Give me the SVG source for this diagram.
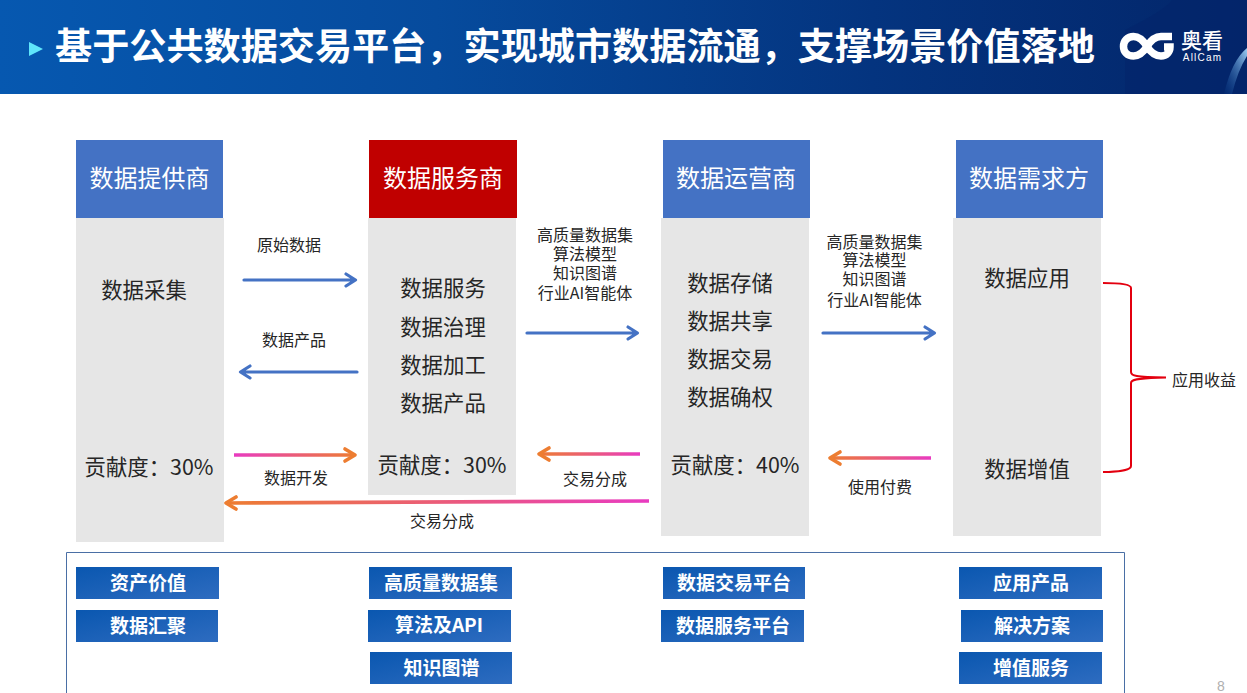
<svg xmlns="http://www.w3.org/2000/svg" width="1247" height="693" viewBox="0 0 1247 693">
<style>
text{font-family:"Noto Sans CJK SC","Liberation Sans",sans-serif;fill:#262626;text-anchor:middle}
.h{font-size:24px;fill:#fff}
.b{font-size:21.4px}
.s{font-size:16px}
.g{font-size:16px}
.t{font-size:19px;font-weight:700;fill:#fff}
.col{fill:#e6e6e6}
.blue{fill:none;stroke:#4472c4;stroke-width:3.2;stroke-linejoin:round;stroke-linecap:round}
.tag{fill:url(#tagG)}
.ar{fill:none;stroke-width:3.6;stroke-linejoin:round;stroke-linecap:round}
.arb{fill:none;stroke-width:3.6}
</style>
<defs>
<linearGradient id="hd" x1="0" y1="0" x2="1" y2="0"><stop offset="0" stop-color="#0658b0"/><stop offset=".35" stop-color="#064b9d"/><stop offset=".7" stop-color="#04347f"/><stop offset="1" stop-color="#03266a"/></linearGradient>
<linearGradient id="tagG" x1="0" y1="0" x2="1" y2="1"><stop offset="0" stop-color="#0a57b0"/><stop offset="1" stop-color="#2e6cc0"/></linearGradient>
<linearGradient id="g1" gradientUnits="userSpaceOnUse" x1="234" y1="0" x2="356" y2="0"><stop offset="0" stop-color="#e83bc0"/><stop offset="1" stop-color="#ed7d31"/></linearGradient>
<linearGradient id="g2" gradientUnits="userSpaceOnUse" x1="640" y1="0" x2="538" y2="0"><stop offset="0" stop-color="#e83bc0"/><stop offset="1" stop-color="#ed7d31"/></linearGradient>
<linearGradient id="g3" gradientUnits="userSpaceOnUse" x1="649" y1="0" x2="225" y2="0"><stop offset="0" stop-color="#e83bc0"/><stop offset="1" stop-color="#ed7d31"/></linearGradient>
<linearGradient id="g4" gradientUnits="userSpaceOnUse" x1="931" y1="0" x2="829" y2="0"><stop offset="0" stop-color="#e83bc0"/><stop offset="1" stop-color="#ed7d31"/></linearGradient>
<linearGradient id="sw" x1="0" y1="1" x2="1" y2="0"><stop offset="0" stop-color="#0a4a9c" stop-opacity=".1"/><stop offset="1" stop-color="#9fd0f5"/></linearGradient>
</defs>

<g id="banner">
<rect x="0" y="0" width="1247" height="94" fill="url(#hd)"/>
<path d="M1125 30Q1165 10 1172 0H1247V94H1125Z" fill="#03246a" opacity=".6"/>
<path d="M1224 94Q1232 60 1247 48V56Q1238 70 1232 94Z" fill="url(#sw)"/>
<polygon points="29,42 43,49 29,56" fill="#5fe6fb"/>
<text x="55" y="60" style="font-size:37.15px;font-weight:700;fill:#fff;text-anchor:start">基于公共数据交易平台，实现城市数据流通，支撑场景价值落地</text>
</g>
<g id="logo">
<path d="M1147 46.500C1143 40 1139 36.500 1133.500 36.500C1127.500 36.500 1123.500 41 1123.500 46.500C1123.500 52 1127.500 56 1133.500 56C1139.500 56 1143.500 52 1147 46.500C1151 40 1155 36.500 1161 36.500H1172" fill="none" stroke="#fff" stroke-width="7.500"/>
<path d="M1147 46.500C1150.500 52 1155 56 1161 56C1166.500 56 1170 52 1170 47H1164" fill="none" stroke="#fff" stroke-width="7.500"/>
<text x="1202" y="48" style="font-size:21px;font-weight:500;fill:#fff">奥看</text>
<text x="1202.500" y="60.500" style="font-size:10px;font-weight:500;fill:#fff;font-family:'Liberation Sans',sans-serif;letter-spacing:1.2px">AllCam</text>
</g>

<g id="col-provider">
<rect class="col" x="76" y="218" width="148" height="324"/>
<rect x="76" y="140" width="147" height="78" fill="#4472c4"/>
<text class="h" x="149.500" y="187">数据提供商</text>
<text class="b" x="144" y="298">数据采集</text>
<text class="b" x="149" y="475">贡献度：30%</text>
</g>
<g id="col-service">
<rect class="col" x="368" y="218" width="148" height="277"/>
<rect x="369" y="140" width="148" height="78" fill="#c00000"/>
<text class="h" x="443" y="187">数据服务商</text>
<text class="b" x="443" y="296">数据服务</text>
<text class="b" x="443" y="335">数据治理</text>
<text class="b" x="443" y="373">数据加工</text>
<text class="b" x="443" y="411">数据产品</text>
<text class="b" x="442" y="473">贡献度：30%</text>
</g>
<g id="col-operator">
<rect class="col" x="661" y="218" width="148" height="318"/>
<rect x="663" y="140" width="147" height="78" fill="#4472c4"/>
<text class="h" x="736" y="187">数据运营商</text>
<text class="b" x="730" y="291">数据存储</text>
<text class="b" x="730" y="329">数据共享</text>
<text class="b" x="730" y="367">数据交易</text>
<text class="b" x="730" y="405">数据确权</text>
<text class="b" x="735" y="473">贡献度：40%</text>
</g>
<g id="col-demand">
<rect class="col" x="953" y="218" width="148" height="318"/>
<rect x="956" y="140" width="147" height="78" fill="#4472c4"/>
<text class="h" x="1029" y="187">数据需求方</text>
<text class="b" x="1027" y="286">数据应用</text>
<text class="b" x="1027" y="477">数据增值</text>
</g>

<g id="connectors">
<path class="blue" d="M244 280H355M346 274L355.500 280L346 286"/>
<path class="blue" d="M357 372H241M250 366L240.500 372L250 378"/>
<path class="blue" d="M527 333H637M628 327L637.500 333L628 339"/>
<path class="blue" d="M823 333H933M925 327L934.500 333L925 339"/>
<path class="arb" stroke="url(#g1)" d="M234 455H354"/>
<path class="ar" stroke="#ed7d31" d="M345 449L355 455L345 461"/>
<path class="arb" stroke="url(#g2)" d="M640 454H540"/>
<path class="ar" stroke="#ed7d31" d="M549 448L539 454L549 460"/>
<path class="arb" stroke="url(#g3)" d="M649 501L227 503"/>
<path class="ar" stroke="#ed7d31" d="M236 497L226 503L236 509"/>
<path class="arb" stroke="url(#g4)" d="M931 458H832"/>
<path class="ar" stroke="#ed7d31" d="M840 452L830 458L840 464"/>
<path d="M1103 283C1118 283 1131 284 1131 288V372C1131 376 1135 377 1166 377.500C1135 378 1131 380 1131 383V466C1131 470 1118 472 1103 472" fill="none" stroke="#e3000f" stroke-width="2"/>
</g>

<g id="labels">
<text class="s" x="289" y="251">原始数据</text>
<text class="s" x="294" y="346">数据产品</text>
<text class="s" x="296" y="484">数据开发</text>
<text class="s" x="595" y="485">交易分成</text>
<text class="s" x="442" y="527">交易分成</text>
<text class="s" x="880" y="493">使用付费</text>
<text class="s" x="1204" y="386">应用收益</text>
<text class="g"><tspan x="585" y="241">高质量数据集</tspan><tspan x="585" y="260">算法模型</tspan><tspan x="585" y="279">知识图谱</tspan><tspan x="585" y="299">行业AI智能体</tspan></text>
<text class="g"><tspan x="874.500" y="248">高质量数据集</tspan><tspan x="874.500" y="266">算法模型</tspan><tspan x="874.500" y="285">知识图谱</tspan><tspan x="874.500" y="306">行业AI智能体</tspan></text>
</g>

<g id="platform-box"><path d="M66.500 693V552.500H1124.500V693" fill="none" stroke="#4a6fa5" stroke-width="1"/></g>
<g id="tag-1"><rect class="tag" x="76" y="567" width="143" height="32"/><text class="t" x="148" y="590">资产价值</text></g>
<g id="tag-2"><rect class="tag" x="76" y="610" width="142" height="32"/><text class="t" x="148" y="633">数据汇聚</text></g>
<g id="tag-3"><rect class="tag" x="369" y="567" width="143" height="32"/><text class="t" x="441" y="590">高质量数据集</text></g>
<g id="tag-4"><rect class="tag" x="368" y="610" width="143" height="32"/><text class="t" x="439" y="632">算法及API</text></g>
<g id="tag-5"><rect class="tag" x="370" y="652" width="142" height="32"/><text class="t" x="441.500" y="675">知识图谱</text></g>
<g id="tag-6"><rect class="tag" x="663" y="567" width="142" height="32"/><text class="t" x="734" y="590">数据交易平台</text></g>
<g id="tag-7"><rect class="tag" x="661" y="610" width="143" height="32"/><text class="t" x="733" y="633">数据服务平台</text></g>
<g id="tag-8"><rect class="tag" x="959" y="567" width="143" height="32"/><text class="t" x="1031" y="590">应用产品</text></g>
<g id="tag-9"><rect class="tag" x="961" y="610" width="142" height="32"/><text class="t" x="1032" y="633">解决方案</text></g>
<g id="tag-10"><rect class="tag" x="959" y="652" width="143" height="32"/><text class="t" x="1031" y="675">增值服务</text></g>
<text x="1221" y="691" style="font-size:14px;fill:#b0b0b0;font-family:'Liberation Sans',sans-serif">8</text>
</svg>
